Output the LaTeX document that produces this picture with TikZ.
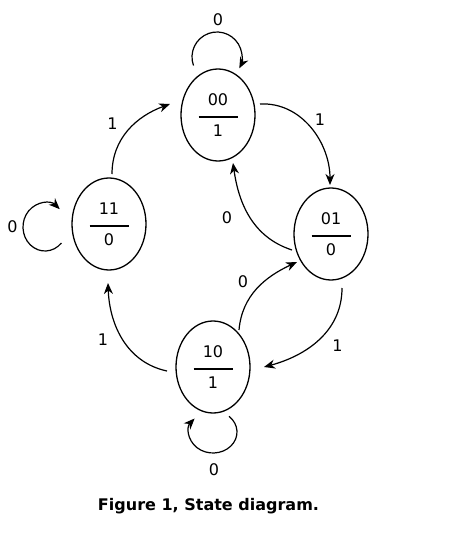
\documentclass[tikz,border=0pt]{standalone}
\usepackage{fontspec}
\setmainfont{DejaVu Sans}
\usetikzlibrary{arrows.meta,calc,shapes.geometric}
\begin{document}
\begin{tikzpicture}[x=1pt,y=1pt,
  state/.style={draw, line width=1.3pt, ellipse, minimum width=74pt, minimum height=92pt, inner sep=0pt},
  digit/.style={font=\fontsize{16}{19}\selectfont, inner sep=0pt, anchor=base},
  lbl/.style={font=\fontsize{16}{19}\selectfont, inner sep=0pt},
  bar/.style={line width=1.4pt},
  conn/.style={line width=1.2pt, -{Stealth[length=11pt,width=9pt,inset=3.5pt]}},
]
\useasboundingbox (0,0) rectangle (469,-554);
% states
\node[state] (A) at (218,-115) {};
\node[state] (B) at (331,-234) {};
\node[state] (C) at (213,-367) {};
\node[state] (D) at (109,-224) {};
% state texts
\node[digit] (At) at ($(A)+(0,10)$) {00};
\draw[bar] ($(A)+(-19.5,-2)$) -- ($(A)+(19.5,-2)$);
\node[digit] (Ab) at ($(A)+(0,-21.5)$) {1};
\node[digit] (Bt) at ($(B)+(0,10)$) {01};
\draw[bar] ($(B)+(-19.5,-2)$) -- ($(B)+(19.5,-2)$);
\node[digit] (Bb) at ($(B)+(0,-21.5)$) {0};
\node[digit] (Ct) at ($(C)+(0,10)$) {10};
\draw[bar] ($(C)+(-19.5,-2)$) -- ($(C)+(19.5,-2)$);
\node[digit] (Cb) at ($(C)+(0,-21.5)$) {1};
\node[digit] (Dt) at ($(D)+(0,10)$) {11};
\draw[bar] ($(D)+(-19.5,-2)$) -- ($(D)+(19.5,-2)$);
\node[digit] (Db) at ($(D)+(0,-21.5)$) {0};
% transitions
\draw[conn] ($(D)+(3,50)$) to[out=90, in=200] ($(A)+(-48,11)$);
\draw[conn] ($(A)+(42,11)$) to[out=3, in=90] ($(B)+(-1,49)$);
\draw[conn] ($(B)+(-39,-16)$) to[out=162, in=278] ($(A)+(15,-48)$);
\draw[conn] ($(C)+(26,37)$) to[out=85, in=205] ($(B)+(-34,-28)$);
\draw[conn] ($(B)+(11,-54)$) to[out=270, in=15] ($(C)+(51,0)$);
\draw[conn] ($(C)+(-46,-4)$) to[out=168, in=272] ($(D)+(-1,-59)$);
% self loops
\draw[conn] ($(A)+(-1,58)+(200:25)$) arc[start angle=200, end angle=-27, radius=25];
\draw[conn] ($(D)+(-64,-3)+(-42:22 and 24)$) arc[start angle=-42, end angle=-312, x radius=22, y radius=24];
\draw[conn] ($(C)+(0,-65)+(48:24 and 21)$) arc[start angle=48, end angle=-220, x radius=24, y radius=21];
% labels
\node[lbl] (la) at (218,-19.5) {0};
\node[lbl] (ld) at (12.5,-227) {0};
\node[lbl] (lc) at (214,-470) {0};
\node[lbl] (lda) at (112.5,-123.5) {1};
\node[lbl] (lab) at (320,-119.5) {1};
\node[lbl] (lba) at (227,-217.5) {0};
\node[lbl] (lcb) at (243,-282) {0};
\node[lbl] (lbc) at (337.5,-346) {1};
\node[lbl] (lcd) at (103,-340) {1};
% caption
\node[font=\fontsize{16}{19}\selectfont\bfseries, anchor=base, inner sep=0pt] (cap) at (208.5,-510) {Figure 1, State diagram.};
\end{tikzpicture}
\end{document}
